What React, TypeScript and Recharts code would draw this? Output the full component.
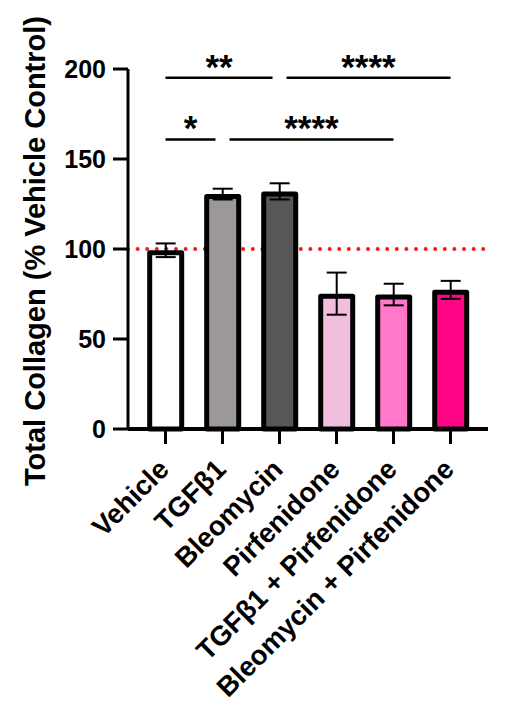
import { BarChart, Bar, XAxis, YAxis, ErrorBar, Cell, ReferenceLine, CartesianGrid } from "recharts"

const groups = ["Vehicle", "TGFβ1", "Bleomycin", "Pirfenidone", "TGFβ1 + Pirfenidone", "Bleomycin + Pirfenidone"]
const collagen = [99.3, 130.5, 132, 75.2, 74.7, 77.3]
const sem = [3.8, 3, 4.5, 11.7, 6, 5]
const barColors = ["#ffffff", "#9c9898", "#575757", "#f2bedd", "#ff78c9", "#fe0585"]
const yTicks = [0, 50, 100, 150, 200]
const controlLevel = 100

// significance brackets, the shared end of neighbouring brackets gets trimmed
const comparisons = [
    { from: "Vehicle", to: "Bleomycin", stars: "**", level: 195.2, trimStart: false, trimEnd: true },
    { from: "Bleomycin", to: "Bleomycin + Pirfenidone", stars: "****", level: 195.2, trimStart: true, trimEnd: false },
    { from: "Vehicle", to: "TGFβ1", stars: "*", level: 160.9, trimStart: false, trimEnd: true },
    { from: "TGFβ1", to: "TGFβ1 + Pirfenidone", stars: "****", level: 160.9, trimStart: true, trimEnd: false },
]

const data = groups.map((name, i) => ({ name, value: collagen[i], sem: sem[i] }))

const FONT = "'Liberation Sans', Arial, Helvetica, sans-serif"
const GAP = 7
const STROKE = 5

function OutlinedBar(props: any) {
    const { x, y, width, height, fill } = props
    const cx = x + width / 2
    const w = 32
    return (
        <rect
            x={cx - w / 2}
            y={y + STROKE / 2}
            width={w}
            height={Math.max(height - STROKE / 2, 0)}
            fill={fill}
            stroke="#000"
            strokeWidth={STROKE}
            strokeLinejoin="round"
        />
    )
}

function GroupTick({ x, y, payload }: any) {
    const tx = x + 5
    const ty = y + 27
    return (
        <text
            x={tx}
            y={ty}
            transform={`rotate(-45 ${tx} ${ty})`}
            textAnchor="end"
            fontFamily={FONT}
            fontWeight="bold"
            fontSize={27.5}
            fill="#000"
        >
            {payload.value}
        </text>
    )
}

function bracket(c: (typeof comparisons)[number]) {
    return (p: any) => {
        const a = p.x1 + (c.trimStart ? GAP : 0)
        const b = p.x2 - (c.trimEnd ? GAP : 0)
        return (
            <g>
                <line x1={a} y1={p.y1} x2={b} y2={p.y1} stroke="#000" strokeWidth={2.5} />
                <text
                    x={(a + b) / 2}
                    y={p.y1 + 1}
                    textAnchor="middle"
                    fontFamily={FONT}
                    fontWeight="bold"
                    fontSize={35}
                    fill="#000"
                >
                    {c.stars}
                </text>
            </g>
        )
    }
}

// the dotted control line sits behind the bars, so it is drawn as a grid line
const dottedLine = (p: any) => (
    <line
        key={p.key}
        x1={p.x1}
        y1={p.y1}
        x2={p.x2 + 3}
        y2={p.y2}
        stroke="#f51a1a"
        strokeWidth={4}
        strokeDasharray="0 9.6"
        strokeLinecap="round"
    />
)

export default function App() {
    return (
        <div style={{ position: "absolute", left: 0, top: 0, background: "#fff" }}>
            <BarChart width={506} height={722} data={data} margin={{ top: 69, right: 18, left: 0, bottom: 0 }}>
                <CartesianGrid vertical={false} horizontalValues={[controlLevel]} horizontal={dottedLine} />
                <XAxis
                    dataKey="name"
                    height={293}
                    padding={{ left: 9, right: 9 }}
                    interval={0}
                    tickSize={15}
                    tickMargin={0}
                    tick={<GroupTick />}
                    axisLine={{ stroke: "#000", strokeWidth: 4 }}
                    tickLine={{ stroke: "#000", strokeWidth: 3 }}
                />
                <YAxis
                    width={128}
                    domain={[0, 200]}
                    ticks={yTicks}
                    tickSize={15}
                    tickMargin={7}
                    axisLine={{ stroke: "#000", strokeWidth: 3 }}
                    tickLine={{ stroke: "#000", strokeWidth: 3 }}
                    tick={{ fill: "#000", fontFamily: FONT, fontWeight: "bold", fontSize: 25 }}
                    label={{
                        content: () => (
                            <text
                                x={45}
                                y={251}
                                transform="rotate(-90 45 251)"
                                textAnchor="middle"
                                fontFamily={FONT}
                                fontWeight="bold"
                                fontSize={29}
                                fill="#000"
                            >
                                Total Collagen (% Vehicle Control)
                            </text>
                        ),
                    }}
                />
                <Bar dataKey="value" shape={<OutlinedBar />} isAnimationActive={false}>
                    {data.map((d, i) => (
                        <Cell key={d.name} fill={barColors[i]} />
                    ))}
                    <ErrorBar dataKey="sem" width={10} stroke="#000" strokeWidth={2} isAnimationActive={false} />
                </Bar>
                {comparisons.map((c) => (
                    <ReferenceLine
                        key={c.from + c.to}
                        segment={[
                            { x: c.from, y: c.level },
                            { x: c.to, y: c.level },
                        ]}
                        shape={bracket(c)}
                    />
                ))}
            </BarChart>
        </div>
    )
}
